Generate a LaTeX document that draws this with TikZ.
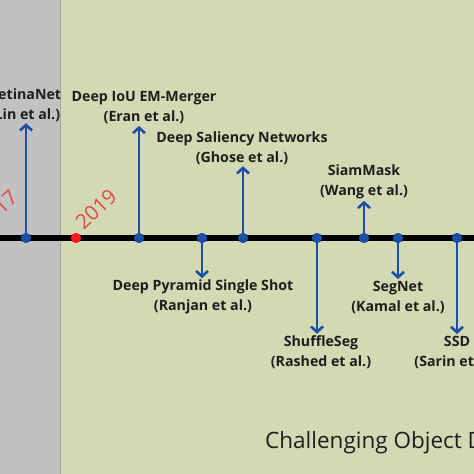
\documentclass[tikz,border=0pt]{standalone}
\usepackage{fontspec}
\setmainfont{Open Sans}
\usetikzlibrary{arrows.meta}
\definecolor{bggray}{HTML}{C1C1C1}
\definecolor{bggreen}{HTML}{D3DAB3}
\definecolor{tlblue}{HTML}{1C4FA6}
\definecolor{yrred}{HTML}{E04848}
\definecolor{dotred}{HTML}{FF1A1A}
\definecolor{txt}{HTML}{1E1E1E}
\tikzset{
  lbl/.style={font=\fontsize{14.2}{20}\selectfont\bfseries, text=txt, align=center, inner sep=1.5pt},
  dot/.style={circle, fill=tlblue, minimum size=10pt, inner sep=0pt},
  reddot/.style={circle, fill=dotred, minimum size=10pt, inner sep=0pt},
  marker/.style={draw=tlblue, line width=2.6pt, -{Straight Barb[length=5.5pt,width=12pt,line width=2.6pt]}},
  year/.style={font=\fontsize{20.5}{20.5}\selectfont, text=yrred, rotate=43, anchor=south west, inner sep=0pt},
}
\begin{document}
\begin{tikzpicture}[x=1pt,y=-1pt]
\useasboundingbox (0,0) rectangle (474,474);
\clip (0,0) rectangle (474,474);
\fill[bggray] (0,0) rectangle (60,474);
\fill[bggreen] (60,0) rectangle (474,474);
\draw[bggray!85!black, line width=0.6pt] (60,0) -- (60,474);
% timeline
\coordinate (tl0) at (-5,238);
\coordinate (tl1) at (480,238);
\draw[black, line width=5.5pt] (tl0) -- (tl1);
% year labels
\node[year] (y17) at (-15,232) {2017};
\node[year] (y19) at (84,231) {2019};
% labels
\node[lbl] (l1) at (25,105) {RetinaNet\\(Lin et al.)};
\node[lbl] (l2) at (144,108) {Deep IoU EM-Merger\\(Eran et al.)};
\node[lbl] (l3) at (242,148) {Deep Saliency Networks\\(Ghose et al.)};
\node[lbl] (l4) at (364,182) {SiamMask\\(Wang et al.)};
\node[lbl] (l5) at (203,297) {Deep Pyramid Single Shot\\(Ranjan et al.)};
\node[lbl] (l6) at (321,352) {ShuffleSeg\\(Rashed et al.)};
\node[lbl] (l7) at (398,297) {SegNet\\(Kamal et al.)};
\node[lbl] (l8) at (457,352) {SSD\\(Sarin et al.)};
% dots
\node[dot] (d1) at (26,238) {};
\node[reddot] (dr) at (76,238) {};
\node[dot] (d2) at (139,238) {};
\node[dot] (d5) at (202,238) {};
\node[dot] (d3) at (243,238) {};
\node[dot] (d6) at (317,238) {};
\node[dot] (d4) at (364,238) {};
\node[dot] (d7) at (398,238) {};
\node[dot] (d8) at (457,238) {};
% arrows
\draw[marker] (d1.center) -- (d1 |- l1.south);
\draw[marker] (d2.center) -- (d2 |- l2.south);
\draw[marker] (d3.center) -- (d3 |- l3.south);
\draw[marker] (d4.center) -- (d4 |- l4.south);
\draw[marker] (d5.center) -- (d5 |- l5.north);
\draw[marker] (d6.center) -- (d6 |- l6.north);
\draw[marker] (d7.center) -- (d7 |- l7.north);
\draw[marker] (d8.center) -- (d8 |- l8.north);
% redraw dots on top
\foreach \n in {d1,d2,d3,d4,d5,d6,d7,d8} \fill[tlblue] (\n) circle (5pt);
\fill[dotred] (dr) circle (5pt);
% bottom caption
\node[font=\fontsize{22.5}{22.5}\selectfont, text=txt, anchor=west, inner sep=0pt] (cap) at (265,443) {Challenging Object Detection};
\end{tikzpicture}
\end{document}
